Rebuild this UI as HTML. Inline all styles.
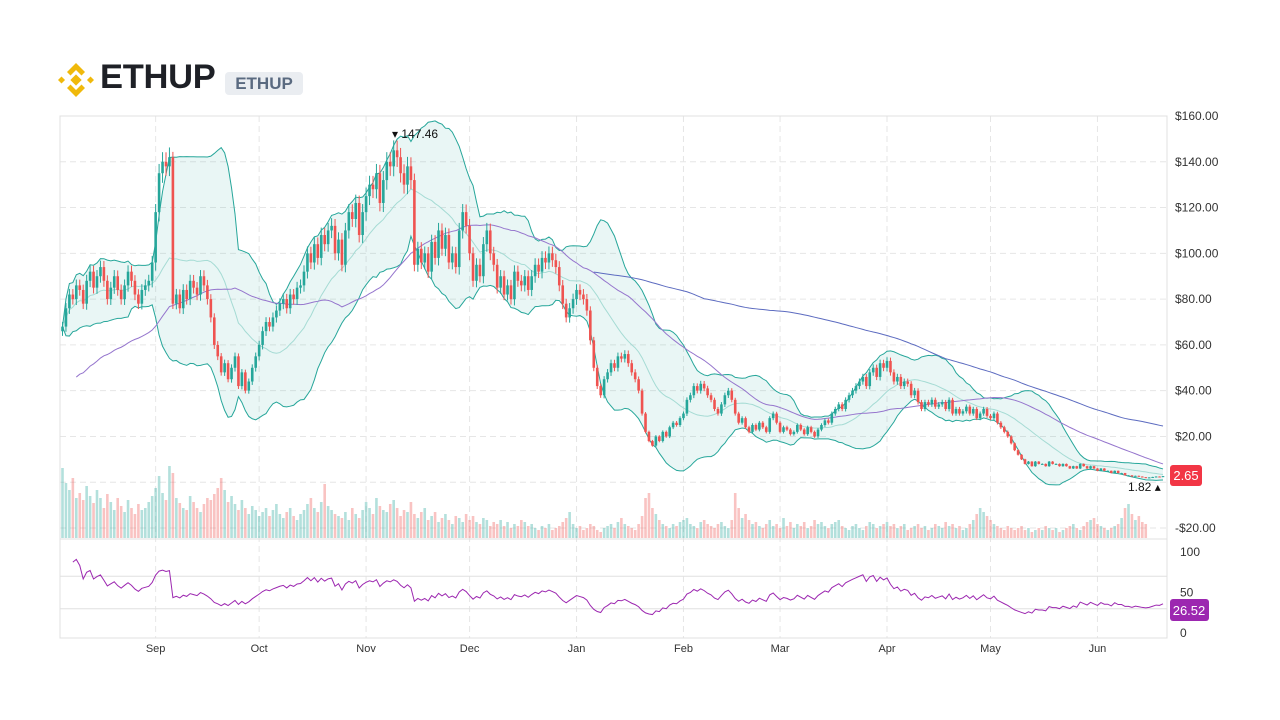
<!DOCTYPE html>
<html><head><meta charset="utf-8">
<style>
body{margin:0;background:#fff;width:1280px;height:720px;overflow:hidden;font-family:"Liberation Sans",sans-serif;}
#hdr{position:absolute;left:58px;top:56px;height:44px;}
#title{position:absolute;left:100px;top:58px;font-size:34.5px;font-weight:bold;color:#1e2026;letter-spacing:-0.3px;}
#badge{position:absolute;left:225px;top:72px;width:78px;height:23px;background:#eaedf1;border-radius:4px;color:#5a6a80;font-weight:bold;font-size:17px;text-align:center;line-height:23px;}
svg text{font-family:"Liberation Sans",sans-serif;}
</style></head><body>
<svg id="hdr" width="36" height="44" viewBox="0 0 36 44">
<g fill="#f0b90b" transform="translate(18,24)">
<rect x="-4" y="-4" width="8" height="8" transform="rotate(45)"/>
<path d="M0,-17 L9,-8 L5.5,-4.5 L0,-10 L-5.5,-4.5 L-9,-8Z"/>
<path d="M0,17 L9,8 L5.5,4.5 L0,10 L-5.5,4.5 L-9,8Z"/>
<rect x="-17" y="-2.5" width="5" height="5" transform="rotate(45 -14.5 0)"/>
<rect x="12" y="-2.5" width="5" height="5" transform="rotate(45 14.5 0)"/>
</g></svg>
<div id="title">ETHUP</div>
<div id="badge">ETHUP</div>
<svg id="chart" width="1280" height="720" style="position:absolute;left:0;top:0"></svg>
<script>
const closes=[68,76,82,80,86,84,78,88,92,85,90,94,88,80,85,90,84,80,86,92,88,82,78,84,86,88,96,
118,135,140,138,142,
78,82,76,84,80,88,85,82,90,
86,80,72,60,55,48,
52,45,50,55,42,48,40,44,50,55,60,
66,70,68,72,75,78,80,76,82,80,85,
86,92,100,96,104,98,108,104,110,112,
100,106,95,110,118,115,122,108,118,125,
130,128,135,122,132,140,138,145,142,
135,130,138,132,95,102,96,
100,92,105,98,110,102,108,96,100,94,
110,118,112,100,88,95,90,104,110,100,
95,85,90,82,86,80,92,88,86,90,84,
90,95,92,98,96,100,97,94,86,78,
72,76,80,84,82,80,75,
62,50,42,38,45,48,52,50,55,54,
56,52,48,45,40,30,22,18,
16,20,18,22,20,24,26,25,28,30,36,
38,42,40,43,41,38,36,32,30,34,
38,40,36,30,26,28,24,22,25,23,
26,24,22,28,30,26,22,24,23,21,
22,25,23,21,24,22,20,23,25,27,
26,30,32,34,32,36,38,40,42,44,
46,42,48,50,46,52,50,53,48,44,
46,42,44,43,38,40,35,32,35,34,
36,33,34,35,32,36,30,32,30,31,
33,30,32,28,30,32,29,28,30,26,
24,22,20,17,14,12,10,8,9,7,
9,8,8,7,9,8,8,7,8,7,
6,7,6,8,7,6,7,6,5,6,
5,5,4,5,4,4,3,3,2.5,2.8,
2.5,2.2,2.0,2.1,2.3,2.5,2.4,2.65];
const volumes=[70,55,48,60,40,45,38,52,42,35,48,40,30,44,36,28,40,32,26,38,30,24,34,28,30,36,42,
50,62,45,38,72,65,40,35,30,28,42,36,30,26,34,40,38,44,50,60,48,36,42,34,28,38,30,24,32,28,22,
26,30,22,28,34,24,20,26,30,22,18,24,28,34,40,30,26,36,54,32,28,24,22,20,26,18,30,24,20,28,
36,30,24,40,32,28,26,34,38,30,22,28,26,36,24,20,26,30,18,22,26,16,20,24,18,14,22,20,16,24,
18,22,16,14,20,18,12,16,14,18,12,16,10,14,12,18,16,12,14,10,8,12,10,14,8,10,12,16,20,26,
14,10,12,8,10,14,12,8,6,10,12,14,10,16,20,14,12,10,8,14,22,40,45,30,24,18,14,12,10,14,12,
16,18,20,14,12,10,16,18,14,12,10,14,16,12,10,18,45,30,20,24,18,14,16,12,10,14,18,12,14,10,
20,12,16,10,14,12,16,10,12,18,14,16,12,10,14,16,18,12,10,8,12,14,10,8,12,16,14,10,12,14,
16,12,14,10,12,14,8,10,12,14,10,12,8,10,14,12,10,16,12,14,10,12,8,10,14,18,24,30,26,22,
18,14,12,10,8,12,10,8,10,12,8,10,6,8,10,8,12,10,8,10,6,8,10,12,14,10,8,12,16,18,20,14,12,10,
8,10,12,14,20,30,34,24,18,22,16,14];
const priceTicks=[160,140,120,100,80,60,40,20,0,-20];
const monthLabels=["Sep","Oct","Nov","Dec","Jan","Feb","Mar","Apr","May","Jun"];
const monthIdx=[27,57,88,118,149,180,208,239,269,300];
const rsiTicks=[100,50,0];

const NS="http://www.w3.org/2000/svg";
const svg=document.getElementById('chart');
const L=60,R=1167,N=closes.length;
const xs=i=>62.5+i*(1163-62.5)/(N-1);
const yp=p=>116+(160-p)*2.2889;
const yr=v=>633-v*0.81;
function mk(t,a,p){const e=document.createElementNS(NS,t);for(const k in a)e.setAttribute(k,a[k]);(p||svg).appendChild(e);return e;}
for(const t of priceTicks){const g=mk('line',{x1:L,x2:R,y1:yp(t),y2:yp(t),stroke:'#e6e6e6','stroke-dasharray':'6,4'});

if(t===0)continue;
const tx=mk('text',{x:1175,y:yp(t)+4,'font-size':12,fill:'#333'});tx.textContent=(t<0?'-$':'$')+Math.abs(t).toFixed(2);
}
monthIdx.forEach((m,k)=>{const x=xs(m);mk('line',{x1:x,x2:x,y1:116,y2:638,stroke:'#e6e6e6','stroke-dasharray':'6,4'});
const tx=mk('text',{x:x,y:652,'font-size':11,fill:'#333','text-anchor':'middle'});tx.textContent=monthLabels[k];
});
mk('rect',{x:L,y:116,width:R-L,height:522,fill:'none',stroke:'#e0e0e0'});
mk('line',{x1:L,x2:R,y1:539,y2:539,stroke:'#e0e0e0'});
[70,30].forEach(v=>mk('line',{x1:L,x2:R,y1:yr(v),y2:yr(v),stroke:'#e0e0e0'}));
for(const t of rsiTicks){const tx=mk('text',{x:1180,y:yr(t)+4,'font-size':12,fill:'#333'});tx.textContent=t;
}
const vg=mk('g',{});
for(let i=0;i<N;i++){const up=i==0||closes[i]>=closes[i-1];const h=volumes[i];
mk('rect',{x:xs(i)-1.3,y:538-h,width:2.6,height:h,fill:up?'#26a69a':'#ef5350',opacity:0.35},vg);}
function sma(w,i){if(i<w-1)return null;let s=0;for(let k=i-w+1;k<=i;k++)s+=closes[k];return s/w;}
const up=[],lo=[],mid=[];
for(let i=0;i<N;i++){const w=Math.min(20,i+1);let s=0;for(let k=i-w+1;k<=i;k++)s+=closes[k];const m=s/w;let v=0;for(let k=i-w+1;k<=i;k++)v+=(closes[k]-m)**2;const sd=Math.sqrt(v/w);mid.push(m);up.push(m+2*sd);lo.push(m-2*sd);}
let d='M'+up.map((v,i)=>xs(i)+','+yp(v)).join('L')+'L'+lo.map((v,i)=>xs(i)+','+yp(v)).reverse().join('L')+'Z';
const bf=mk('path',{d:d,fill:'rgba(38,166,154,0.1)'});
const line=(arr,c,w,name)=>{let s='';arr.forEach((v,i)=>{if(v==null)return;s+=(s?'L':'M')+xs(i)+','+yp(v);});const p=mk('path',{d:s,fill:'none',stroke:c,'stroke-width':w});};
line(up,'#26a69a',1,'bollinger-upper');line(lo,'#26a69a',1,'bollinger-lower');line(mid,'#a5dbd4',1,'bollinger-middle');
const ma50=[];for(let i=0;i<N;i++){const w=Math.min(50,i+1);if(i<4){ma50.push(null);continue;}let s=0;for(let k=i-w+1;k<=i;k++)s+=closes[k];ma50.push(s/w*(i<50?(0.55+0.45*i/50):1));}
line(ma50,'#9575cd',1,'ma-50');
const ma155=closes.map((c,i)=>sma(155,i));line(ma155,'#5c6bc0',1,'ma-long');
const cg=mk('g',{});
for(let i=0;i<N;i++){const o=i?closes[i-1]:closes[0]*0.97,c=closes[i];const upc=c>=o;const col=upc?'#26a69a':'#ef5350';
const hi=Math.max(o,c)+Math.max(c,1)*0.03,lw=Math.min(o,c)-Math.max(c,1)*0.03;
mk('line',{x1:xs(i),x2:xs(i),y1:yp(hi),y2:yp(lw),stroke:col,'stroke-width':1},cg);
const y1=yp(Math.max(o,c)),y2=yp(Math.min(o,c));mk('rect',{x:xs(i)-1.3,y:y1,width:2.6,height:Math.max(1,y2-y1),fill:col},cg);}
const rsi=[];let ag=0,al=0;
for(let i=1;i<N;i++){const ch=closes[i]-closes[i-1];const g=Math.max(ch,0),l=Math.max(-ch,0);
if(i<=14){ag+=g/14;al+=l/14;}else{ag=(ag*13+g)/14;al=(al*13+l)/14;}
rsi[i]=al==0?100:100-100/(1+ag/al);}
let rs='';for(let i=3;i<N;i++){rs+=(rs?'L':'M')+xs(i)+','+yr(rsi[i]);}
const rp=mk('path',{d:rs,fill:'none',stroke:'#9c27b0','stroke-width':1});
const a1=mk('text',{x:392,y:138,'font-size':12,fill:'#111'});a1.textContent='▾ 147.46';
const a2=mk('text',{x:1128,y:491,'font-size':12,fill:'#111'});a2.textContent='1.82 ▴';
const tag=mk('g',{});
mk('rect',{x:1170,y:465,width:32,height:21,rx:3,fill:'#f23645'},tag);
const t2=mk('text',{x:1186,y:480,'font-size':13,fill:'#fff','text-anchor':'middle'},tag);t2.textContent='2.65';
const tag2=mk('g',{});
mk('rect',{x:1170,y:599,width:39,height:22,rx:3,fill:'#9c27b0'},tag2);
const t3=mk('text',{x:1189,y:615,'font-size':13,fill:'#fff','text-anchor':'middle'},tag2);t3.textContent='26.52';
</script>
</body></html>
